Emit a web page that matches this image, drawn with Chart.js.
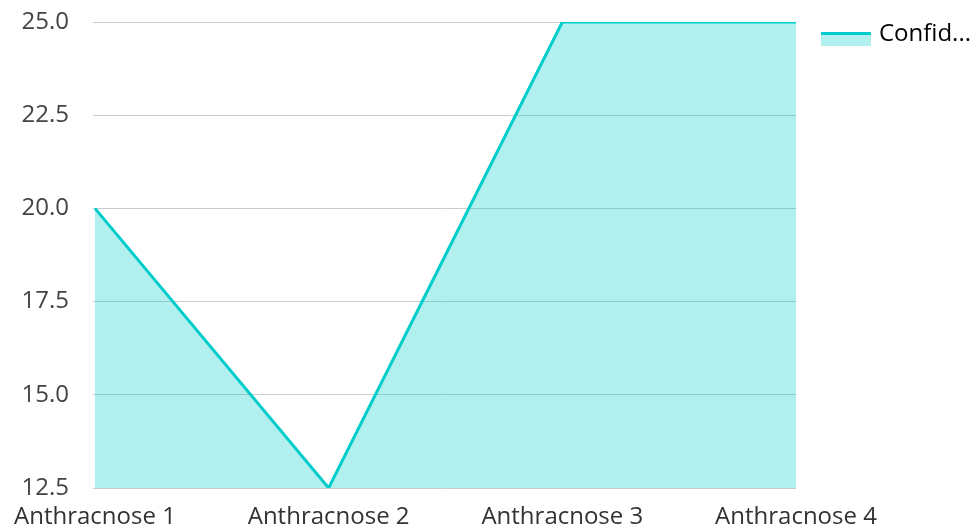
<!DOCTYPE html>
<html><head><meta charset="utf-8">
<script src="https://cdn.jsdelivr.net/npm/chart.js@4"></script>
<style>html,body{margin:0;padding:0;background:#fff}#w{width:978px;height:528px}</style>
</head><body><div id="w"><canvas id="c"></canvas></div>
<script>
const categories = ["Anthracnose 1", "Anthracnose 2", "Anthracnose 3", "Anthracnose 4"];
const seriesLabel = "Confid...";
const seriesValues = [20, 12.5, 25, 25];
const yMin = 12.5, yMax = 25, yStep = 2.5;

const LEG_PAD = 10;
const legendTweak = {
  id: 'legendTweak',
  afterLayout(chart) {
    const lg = chart.legend;
    if (!lg) return;
    const dx = chart.chartArea.right + 25 - LEG_PAD - lg.left;
    const dy = chart.chartArea.top - 10 - lg.top;
    lg.left += dx; lg.right += dx; lg.top += dy; lg.bottom += dy;
  },
  afterDraw(chart) {
    const lg = chart.legend;
    if (!lg) return;
    const x = lg.left + LEG_PAD;
    const y = lg.top + LEG_PAD + 10;
    const ctx = chart.ctx;
    ctx.save();
    ctx.fillStyle = 'rgba(0,204,204,0.3)';
    ctx.fillRect(x, y + 3, 50, 11);
    ctx.fillStyle = '#00cccc';
    ctx.fillRect(x, y, 50, 3);
    ctx.restore();
  }
};

new Chart(document.getElementById('c'), {
  type: 'line',
  data: {
    labels: categories,
    datasets: [{
      label: seriesLabel,
      data: seriesValues,
      borderColor: '#00cccc',
      backgroundColor: 'rgba(0,204,204,0.3)',
      borderWidth: 3,
      fill: 'origin',
      pointRadius: 0,
      tension: 0
    }]
  },
  options: {
    responsive: true,
    maintainAspectRatio: false,
    animation: false,
    layout: { padding: { top: 0, right: 12, bottom: 0, left: -2.5 } },
    plugins: {
      legend: {
        position: 'right',
        align: 'start',
        labels: {
          boxWidth: 46, boxHeight: 14,
          font: { family: 'Open Sans', size: 24 },
          color: '#333',
          padding: LEG_PAD,
          generateLabels(chart) {
            return [{ text: seriesLabel, fillStyle: 'rgba(0,0,0,0)', strokeStyle: 'rgba(0,0,0,0)', lineWidth: 0, datasetIndex: 0 }];
          }
        }
      },
      tooltip: { enabled: false }
    },
    scales: {
      x: {
        grid: { display: false },
        border: { display: false },
        ticks: { font: { family: 'Open Sans', size: 24 }, color: '#333', maxRotation: 0, padding: 7 },
        afterFit(s) { s.height = 40; }
      },
      y: {
        min: yMin, max: yMax,
        grid: { color: '#cccccc', tickLength: 2 },
        border: { display: false },
        ticks: { stepSize: yStep, font: { family: 'Open Sans', size: 24 }, color: '#444', padding: 24,
          callback: v => v.toFixed(1) },
        afterFit(s) { s.paddingTop = 22; s.paddingBottom = 0; }
      }
    }
  },
  plugins: [legendTweak]
});
</script></body></html>
